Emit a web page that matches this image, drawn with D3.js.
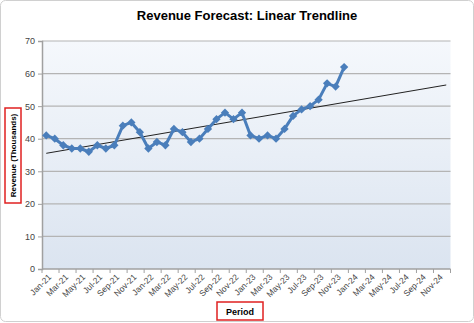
<!DOCTYPE html>
<html><head><meta charset="utf-8">
<script src="https://cdn.jsdelivr.net/npm/d3@7"></script>
<style>body{margin:0;background:#fff}svg{display:block;font-family:"Liberation Sans",Arial,sans-serif}</style>
</head><body>
<svg id="c" width="474" height="323"></svg>
<script>
const years = ["21","22","23","24"];
const monthNames = ["Jan","Feb","Mar","Apr","May","Jun","Jul","Aug","Sep","Oct","Nov","Dec"];
const periods = years.flatMap(y => monthNames.map(m => m + "-" + y));
const revenue = [41,40,38,37,37,36,38,37,38,44,45,42,
                 37,39,38,43,42,39,40,43,46,48,46,48,
                 41,40,41,40,43,47,49,50,52,57,56,62];
const yTicks = [0,10,20,30,40,50,60,70];
const title = "Revenue Forecast: Linear Trendline";
const yLabel = "Revenue (Thousands)";
const xLabel = "Period";

const svg = d3.select("#c");
const L = 42, R = 450.5, T = 41, B = 269;

svg.append("rect").attr("x",0.5).attr("y",0.5).attr("width",473).attr("height",321)
  .attr("rx",5).attr("fill","#fff").attr("stroke","#d0d0d0");

const defs = svg.append("defs");
const g1 = defs.append("linearGradient").attr("id","bg").attr("x1",0).attr("y1",0).attr("x2",0).attr("y2",1);
g1.append("stop").attr("offset","0%").attr("stop-color","#f5f8fc");
g1.append("stop").attr("offset","100%").attr("stop-color","#dbe4f0");

const x = d3.scaleBand().domain(periods).range([L,R]).paddingInner(0).paddingOuter(0);
const y = d3.scaleLinear().domain([0,70]).range([B,T]);

svg.append("rect").attr("x",L).attr("y",T).attr("width",R-L).attr("height",B-T).attr("fill","url(#bg)");

// gridlines
svg.append("g").selectAll("line").data(yTicks.filter(d=>d>0)).join("line")
  .attr("x1",L).attr("x2",R).attr("y1",d=>y(d)).attr("y2",d=>y(d))
  .attr("stroke","#b4b4b4").attr("stroke-width",1.2);

// y axis
const yAx = svg.append("g").attr("transform",`translate(${L},0)`)
  .call(d3.axisLeft(y).tickValues(yTicks).tickSize(4).tickPadding(3));
yAx.select(".domain").attr("stroke","#a0a0a0").attr("stroke-width",1.5);
yAx.selectAll(".tick line").attr("stroke","#a0a0a0");
yAx.selectAll("text").attr("font-size",9).attr("fill","#444").attr("font-family","Liberation Sans, Arial, sans-serif");

// x axis
svg.append("line").attr("x1",L).attr("x2",R).attr("y1",B).attr("y2",B).attr("stroke","#a0a0a0").attr("stroke-width",1.5);
const bw = x.bandwidth();
svg.append("g").selectAll("line").data(periods.filter((d,i)=>i%2===0).concat(["end"])).join("line")
  .attr("x1",d=>d==="end"?R:x(d)).attr("x2",d=>d==="end"?R:x(d))
  .attr("y1",B).attr("y2",B+4).attr("stroke","#a0a0a0");
svg.append("g").selectAll("text").data(periods.filter((d,i)=>i%2===0)).join("text")
  .attr("transform",d=>`translate(${x(d)+bw/2+2},${B+5}) rotate(-45)`)
  .attr("text-anchor","end").attr("dy","0.6em")
  .attr("font-size",8.5).attr("fill","#444").text(d=>d);

// trendline (least squares)
const mi = d3.mean(revenue,(d,i)=>i), mv = d3.mean(revenue);
const slope = d3.sum(revenue,(d,i)=>(i-mi)*(d-mv)) / d3.sum(revenue,(d,i)=>(i-mi)*(i-mi));
const icpt = mv - slope*mi;
const cx = p => x(p) + bw/2;
svg.append("line")
  .attr("x1",cx(periods[0])).attr("y1",y(icpt))
  .attr("x2",cx(periods[periods.length-1])).attr("y2",y(icpt+slope*(periods.length-1)))
  .attr("stroke","#222").attr("stroke-width",1);

// data line
const pts = revenue.map((v,i)=>({p:periods[i],v}));
svg.append("path").datum(pts)
  .attr("d",d3.line().x(d=>cx(d.p)).y(d=>y(d.v)))
  .attr("fill","none").attr("stroke","#4a7ebb").attr("stroke-width",3).attr("stroke-linejoin","round");
svg.append("g").selectAll("path").data(pts).join("path")
  .attr("d",d3.symbol(d3.symbolDiamond2,44))
  .attr("transform",d=>`translate(${cx(d.p)},${y(d.v)})`)
  .attr("fill","#4a7ebb");

// title
svg.append("text").attr("x",247).attr("y",20).attr("text-anchor","middle")
  .attr("font-size",13).attr("font-weight","bold").attr("fill","#000").text(title);

// y label
svg.append("rect").attr("x",5).attr("y",108).attr("width",16).attr("height",95)
  .attr("fill","#fff").attr("stroke","#e02020").attr("stroke-width",1.5);
svg.append("text").attr("transform","translate(16,155.5) rotate(-90)").attr("text-anchor","middle")
  .attr("font-size",8).attr("font-weight","bold").attr("fill","#000").text(yLabel);

// x label
svg.append("rect").attr("x",217).attr("y",302).attr("width",46).attr("height",18)
  .attr("fill","#fff").attr("stroke","#e02020").attr("stroke-width",1.5);
svg.append("text").attr("x",240).attr("y",314.5).attr("text-anchor","middle")
  .attr("font-size",9).attr("font-weight","bold").attr("fill","#000").text(xLabel);
</script>
</body></html>
